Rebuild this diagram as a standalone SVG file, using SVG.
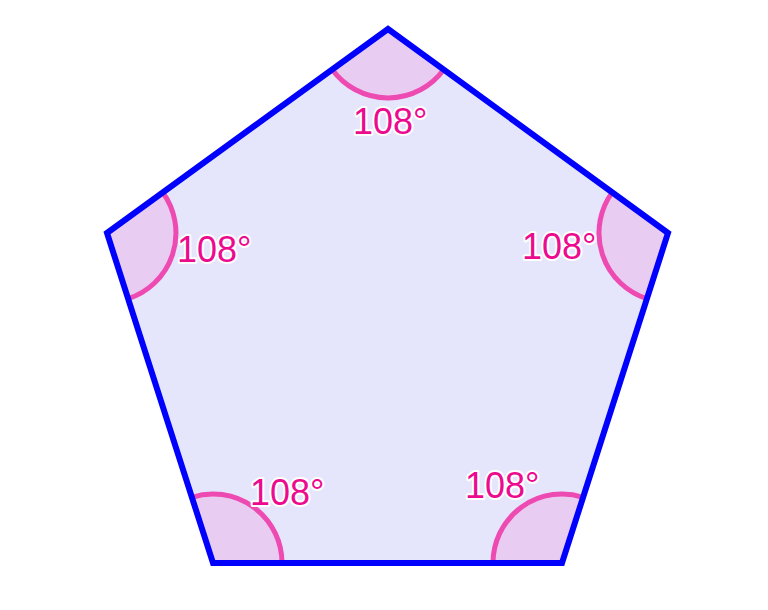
<svg xmlns="http://www.w3.org/2000/svg" width="768" height="610" viewBox="0 0 768 610">
<style>
.poly{fill:#E5E5FC;stroke:none}
.edge{fill:none;stroke:#0000FF;stroke-width:6;stroke-linejoin:miter}
.sector{fill:#E8CCF2;stroke:none}
.arc{fill:none;stroke:#EE4BB2;stroke-width:5}
.lbl{font-family:"Liberation Sans",Arial,sans-serif;font-size:36px;fill:#EC0A8E;stroke:#FFFFFF;stroke-width:4;paint-order:stroke;stroke-linejoin:round}
</style>
<rect width="768" height="610" fill="#FFFFFF"/>
<polygon class="poly" points="388,29 668,233 562,563 213,563 107,233"/>
<g id="angle-top">
<path class="sector" d="M388,29 L332.2,69.5 A69,69 0 0 0 443.8,69.5 Z"/>
<path class="arc" d="M332.2,69.5 A69,69 0 0 0 443.8,69.5"/>
</g>
<g id="angle-left">
<path class="sector" d="M107,233 L162.8,192.5 A69,69 0 0 1 128.1,298.7 Z"/>
<path class="arc" d="M162.8,192.5 A69,69 0 0 1 128.1,298.7"/>
</g>
<g id="angle-right">
<path class="sector" d="M668,233 L612.2,192.4 A69,69 0 0 0 646.9,298.7 Z"/>
<path class="arc" d="M612.2,192.4 A69,69 0 0 0 646.9,298.7"/>
</g>
<g id="angle-bottom-left">
<path class="sector" d="M213,563 L191.9,497.3 A69,69 0 0 1 282,563 Z"/>
<path class="arc" d="M191.9,497.3 A69,69 0 0 1 282,563"/>
</g>
<g id="angle-bottom-right">
<path class="sector" d="M562,563 L493,563 A69,69 0 0 1 583.1,497.3 Z"/>
<path class="arc" d="M493,563 A69,69 0 0 1 583.1,497.3"/>
</g>
<g id="pentagon">
<polygon class="edge" points="388,29 668,233 562,563 213,563 107,233"/>
</g>
<g id="labels">
<text class="lbl" x="353" y="134">108°</text>
<text class="lbl" x="177" y="262">108°</text>
<text class="lbl" x="522" y="259">108°</text>
<text class="lbl" x="250" y="505">108°</text>
<text class="lbl" x="465" y="498">108°</text>
</g>
</svg>
